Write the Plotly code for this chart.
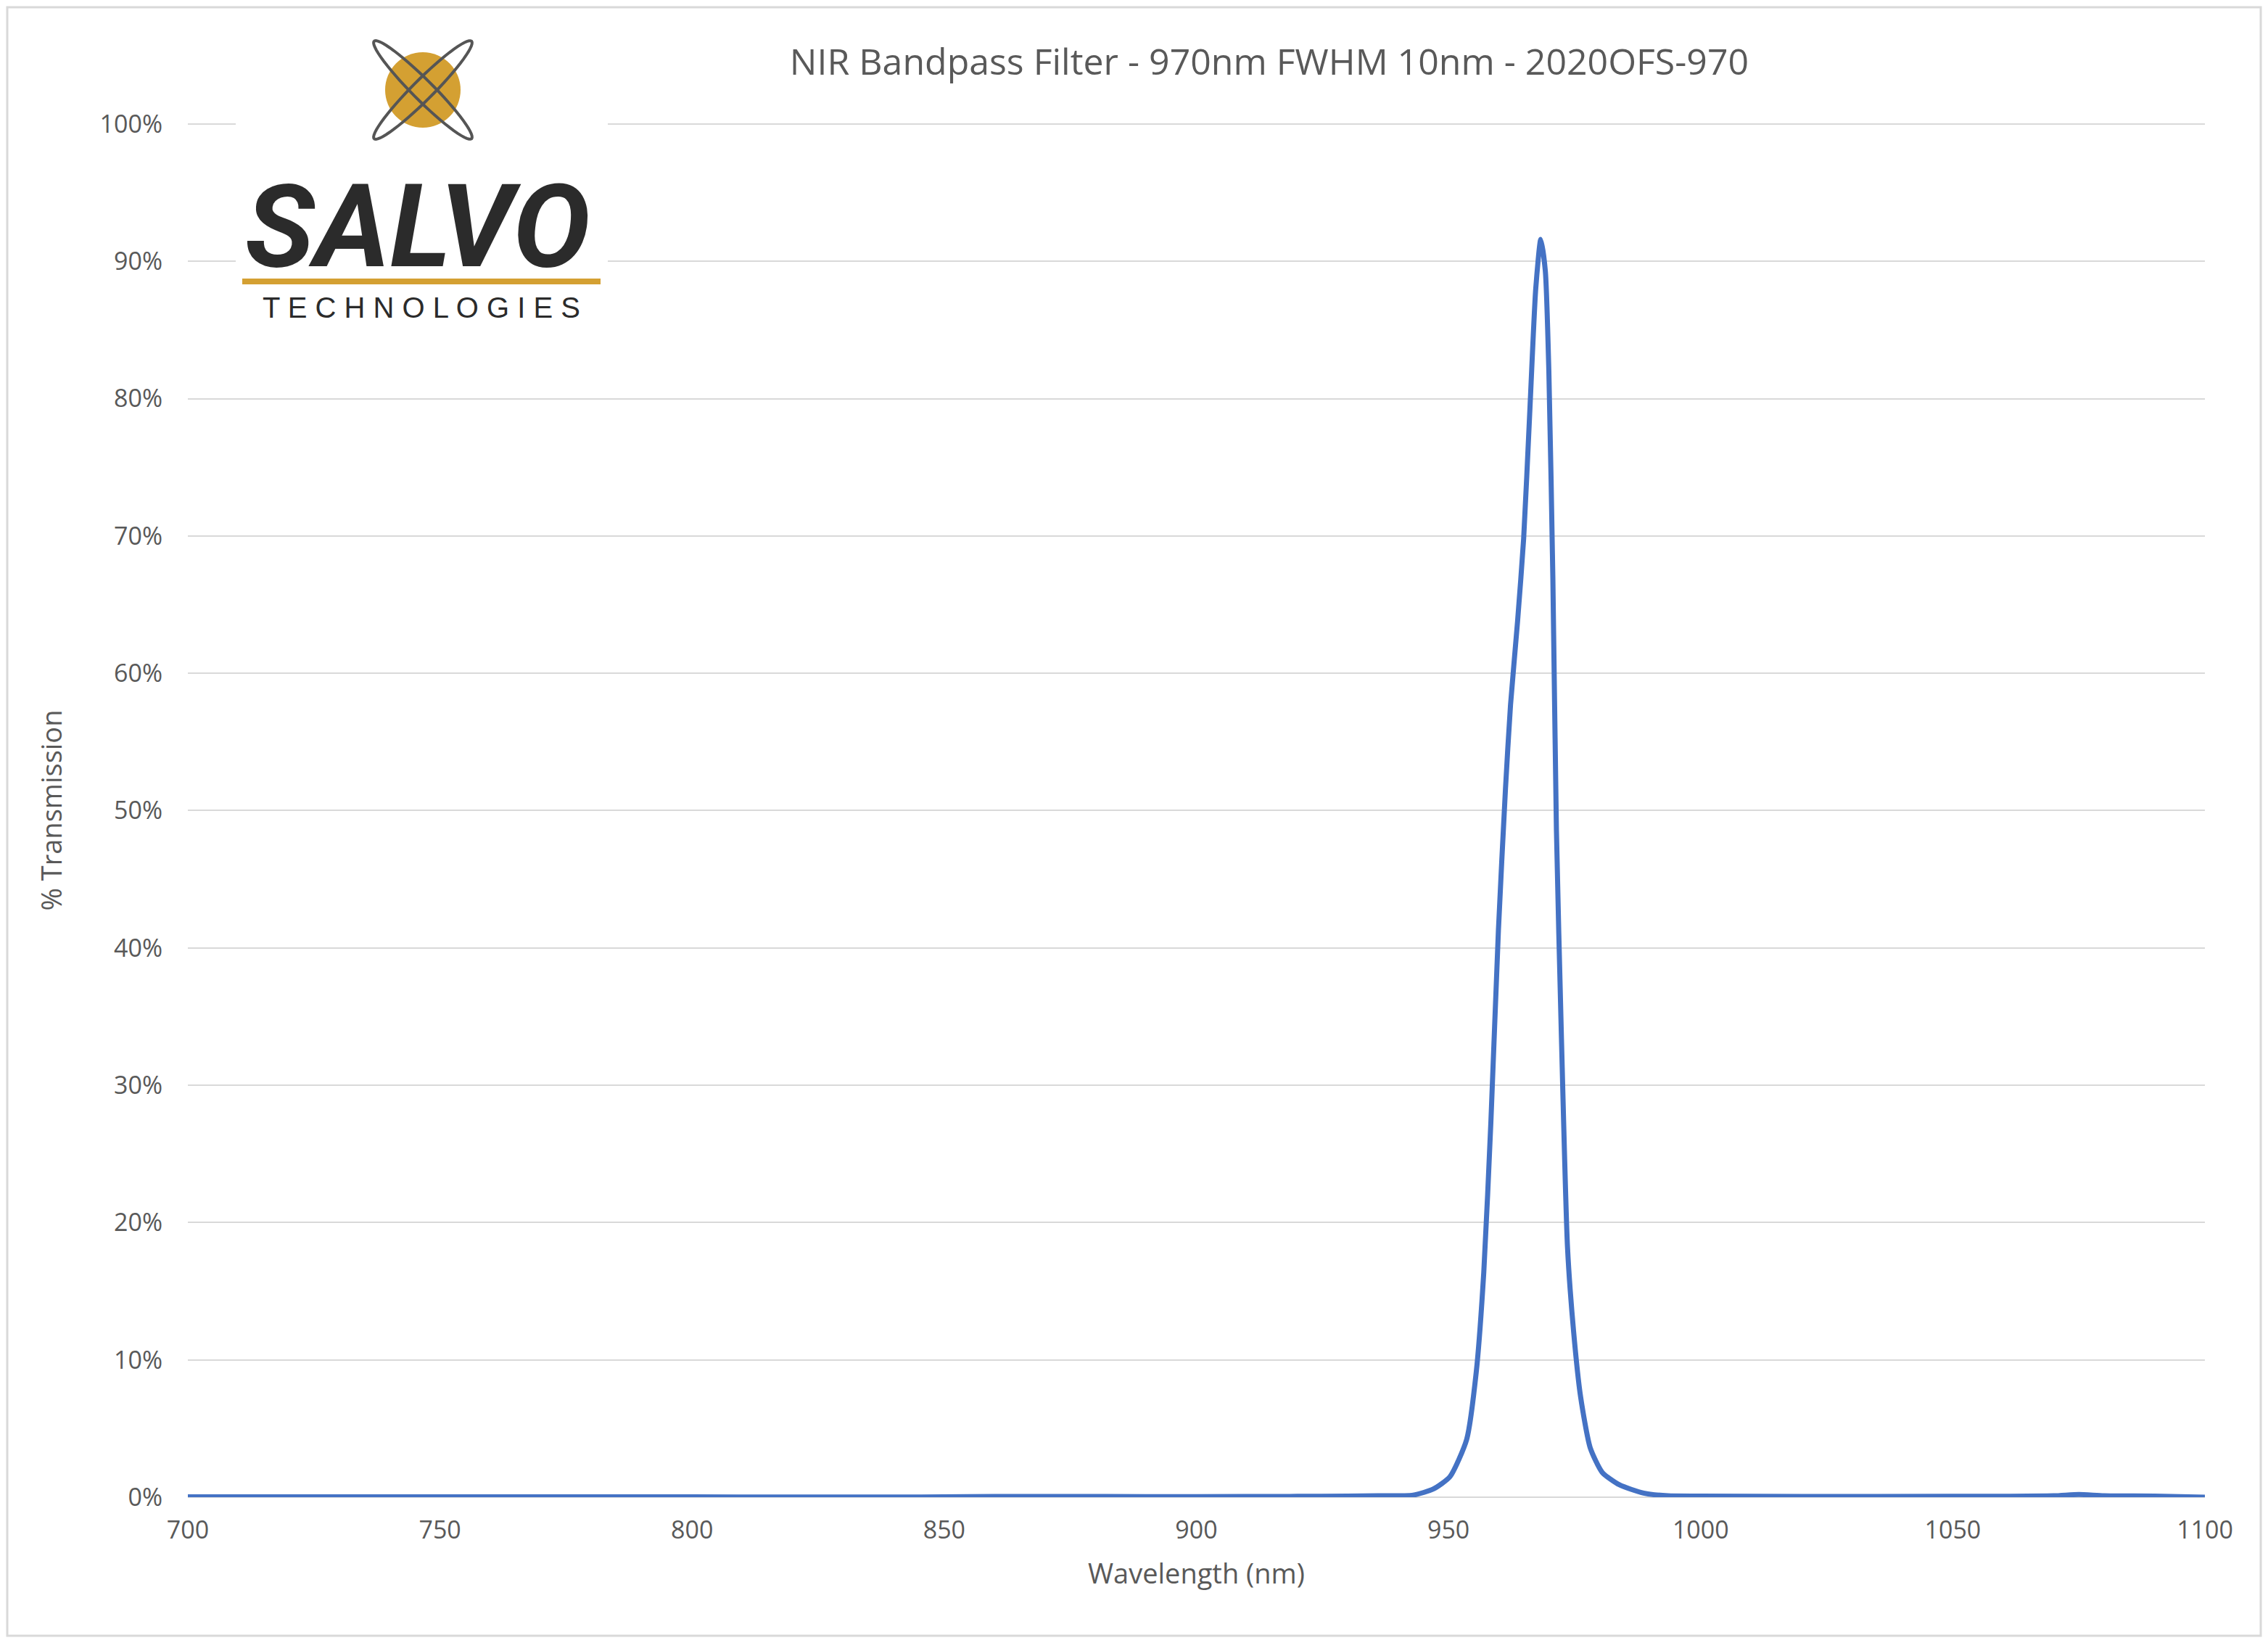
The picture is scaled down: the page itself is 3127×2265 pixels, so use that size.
import numpy as np
import plotly.graph_objects as go

wavelength = [700, 750, 800, 850, 860, 880, 900, 920, 930, 936, 943, 947, 950.3, 953.6, 955.5, 957, 958.4, 959.9, 961.3,
              962.3, 963.7, 964.9, 966.1, 967.3, 968.3, 969.2, 969.9, 970.7, 971.4, 972.4, 973.6, 974.8,
              976.2, 978.1, 980.5, 983.9, 988.7, 993.5, 1000, 1020, 1050, 1070, 1075, 1080, 1090, 1100]
transmission = [0.02, 0.03, 0.02, 0.02, 0.05, 0.05, 0.04, 0.06, 0.08, 0.1, 0.15, 0.6, 1.5, 4.2, 9.1, 16.4, 27.3, 41.3, 51.6,
                57.7, 63.8, 69.8, 78.9, 88.0, 91.6, 89.3, 82.0, 66.8, 48.6, 33.4, 18.2, 12.1,
                7.3, 3.6, 1.8, 0.9, 0.3, 0.1, 0.08, 0.05, 0.06, 0.1, 0.2, 0.1, 0.08, 0.0]

W, H = 3111, 2249   # page has an 8px body margin
OFF = 8
L, R, T, B = 259 - OFF, 3040 - OFF, 170 - OFF, 2064 - OFF
def px(x): return (x - OFF - L) / (R - L)
def py(y): return (B - (y - OFF)) / (B - T)

fig = go.Figure(go.Scatter(x=wavelength, y=[v / 100 for v in transmission], mode="lines",
                           line=dict(color="#4472C4", width=7, shape="spline", smoothing=0.6),
                           hoverinfo="skip"))

font = "Open Sans"
grey = "#595959"
shapes = [
    dict(type="rect", xref="paper", yref="paper", x0=px(10), x1=px(W + OFF - 2), y0=py(H + OFF - 2), y1=py(10),
         line=dict(color="#D9D9D9", width=3), fillcolor="rgba(0,0,0,0)", layer="below"),
    dict(type="line", xref="paper", yref="y", x0=0, x1=1, y0=1, y1=1,
         line=dict(color="#D9D9D9", width=2), layer="below"),
    dict(type="rect", xref="paper", yref="paper", x0=px(325), x1=px(838), y0=py(395), y1=py(150),
         line=dict(width=0), fillcolor="white", layer="above"),
    dict(type="circle", xref="paper", yref="paper", x0=px(531), x1=px(635), y0=py(176), y1=py(72),
         line=dict(width=0), fillcolor="#D4A032", layer="above"),
    dict(type="line", xref="paper", yref="paper", x0=px(334), x1=px(828), y0=py(388), y1=py(388),
         line=dict(color="#D4A032", width=8), layer="above"),
]
cx, cy = 583, 124
t = np.linspace(0, 2 * np.pi, 60)
for ang in (np.pi / 4, -np.pi / 4):
    a, b = 95, 14
    xs = cx + a * np.cos(t) * np.cos(ang) - b * np.sin(t) * np.sin(ang)
    ys = cy + a * np.cos(t) * np.sin(ang) + b * np.sin(t) * np.cos(ang)
    path = "M " + " L ".join(f"{px(x):.5f},{py(y):.5f}" for x, y in zip(xs, ys)) + " Z"
    shapes.append(dict(type="path", xref="paper", yref="paper", path=path,
                       line=dict(color="#555555", width=4), fillcolor="rgba(0,0,0,0)", layer="above"))

annotations = [
    dict(text="<b><i>SALVO</i></b>", x=px(576), y=py(312), xref="paper", yref="paper", showarrow=False,
         font=dict(family="Roboto", size=160, color="#2B2B2B"), xanchor="center", yanchor="middle"),
    dict(text="T E C H N O L O G I E S", x=px(581), y=py(424), xref="paper", yref="paper", showarrow=False,
         font=dict(family="Liberation Sans", size=40, color="#2B2B2B"), xanchor="center", yanchor="middle"),
]

fig.update_layout(
    width=W, height=H, margin=dict(l=L, r=W - R, t=T, b=H - B),
    paper_bgcolor="white", plot_bgcolor="white", showlegend=False,
    title=dict(text="NIR Bandpass Filter - 970nm FWHM 10nm - 2020OFS-970", x=(1750 - OFF) / W, xanchor="center",
               y=1 - (85 - OFF) / H, yanchor="middle", font=dict(family=font, size=50, color=grey)),
    xaxis=dict(range=[700, 1100], tickvals=list(range(700, 1101, 50)), showgrid=False, zeroline=False,
               showline=False, ticks="", ticklabelstandoff=22, tickfont=dict(family=font, size=34, color=grey),
               title=dict(text="Wavelength (nm)", font=dict(family=font, size=38, color=grey), standoff=26)),
    yaxis=dict(range=[0, 1.0005], tickvals=[i / 10 for i in range(11)], tickformat=".0%", showgrid=True,
               gridcolor="#D9D9D9", gridwidth=2, zeroline=True, zerolinecolor="#D9D9D9", zerolinewidth=2,
               ticks="", ticklabelstandoff=34, tickfont=dict(family=font, size=34, color=grey),
               title=dict(text="% Transmission", font=dict(family=font, size=38, color=grey), standoff=40)),
    shapes=shapes, annotations=annotations,
)
fig.write_html("out.html")
